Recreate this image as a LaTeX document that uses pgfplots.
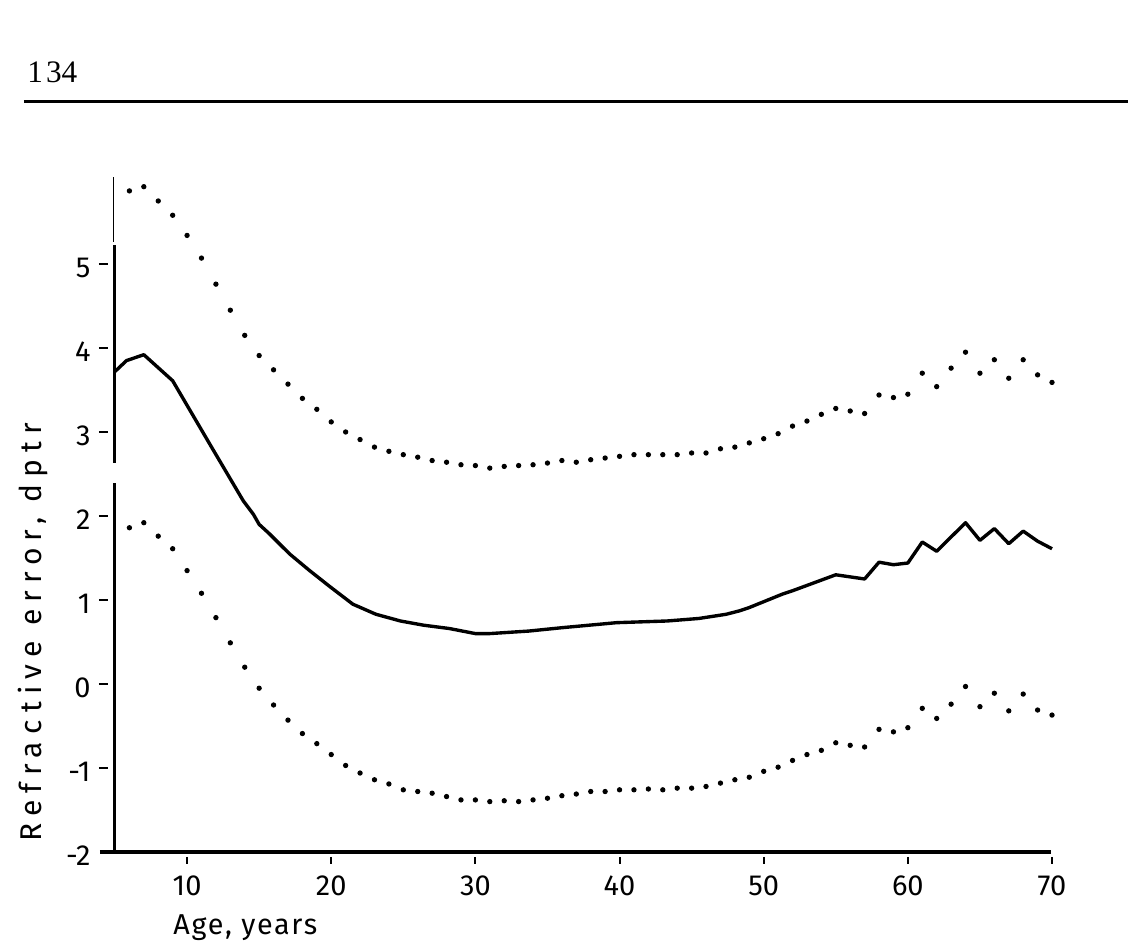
\documentclass[border=0pt]{standalone}
\usepackage{pgfplots}
\pgfplotsset{compat=1.18}
\usepackage{fontspec}
\setmainfont{Fira Sans}
\newfontfamily\seriffont{Liberation Serif}
\newfontfamily\spacedfont[LetterSpace=24]{Fira Sans}
\newfontfamily\xlabfont[LetterSpace=6]{Fira Sans}
\begin{document}
\begin{tikzpicture}
\begin{axis}[
  scale only axis, width=374.8pt, height=268.8pt,
  xmin=5, xmax=70, ymin=-2, ymax=6,
  clip=false,
  axis line style={draw=none},
  major tick length=0pt, tick style={draw=none},
  xtick={10,20,30,40,50,60,70},
  ytick={-2,-1,0,1,2,3,4,5},
  yticklabels={-2,-1,0,1,2,3,4,5},
  xtick pos=bottom, ytick pos=left,
  xticklabel style={anchor=north, inner sep=0pt, yshift=-9.2pt, font=\fontsize{11.6}{13}\selectfont},
  yticklabel style={anchor=east, inner sep=0pt, xshift=-9.6pt, yshift=-1.6pt, font=\fontsize{11.6}{13}\selectfont},
  /pgf/number format/assume math mode=true,
]
\addplot[only marks, mark=*, mark size=0.85pt, black] coordinates {
(6,5.87)(7,5.92)(8,5.75)(9,5.58)(10,5.34)(11,5.07)(12,4.76)(13,4.45)(14,4.15)(15,3.91)
(16,3.74)(17,3.57)(18,3.40)(19,3.27)(20,3.12)(21,3.00)(22,2.91)(23,2.82)(24,2.77)(25,2.73)
(26,2.70)(27,2.66)(28,2.64)(29,2.61)(30,2.60)(31,2.57)(32,2.59)(33,2.60)(34,2.61)(35,2.63)
(36,2.66)(37,2.64)(38,2.67)(39,2.69)(40,2.71)(41,2.73)(42,2.73)(43,2.73)(44,2.73)(45,2.75)
(46,2.75)(47,2.80)(48,2.82)(49,2.87)(50,2.92)(51,2.98)(52,3.07)(53,3.13)(54,3.21)(55,3.28)
(56,3.25)(57,3.22)(58,3.44)(59,3.41)(60,3.45)(61,3.70)(62,3.54)(63,3.76)(64,3.95)(65,3.70)
(66,3.86)(67,3.64)(68,3.86)(69,3.68)(70,3.59)
};
\addplot[only marks, mark=*, mark size=0.85pt, black] coordinates {
(6,1.86)(7,1.92)(8,1.76)(9,1.61)(10,1.35)(11,1.08)(12,0.79)(13,0.49)(14,0.20)(15,-0.05)
(16,-0.25)(17,-0.43)(18,-0.59)(19,-0.71)(20,-0.84)(21,-0.97)(22,-1.06)(23,-1.14)(24,-1.19)(25,-1.26)
(26,-1.28)(27,-1.30)(28,-1.34)(29,-1.38)(30,-1.38)(31,-1.40)(32,-1.39)(33,-1.40)(34,-1.38)(35,-1.36)
(36,-1.33)(37,-1.31)(38,-1.28)(39,-1.28)(40,-1.26)(41,-1.26)(42,-1.25)(43,-1.26)(44,-1.24)(45,-1.24)
(46,-1.22)(47,-1.18)(48,-1.14)(49,-1.11)(50,-1.04)(51,-0.99)(52,-0.91)(53,-0.84)(54,-0.79)(55,-0.70)
(56,-0.73)(57,-0.75)(58,-0.54)(59,-0.57)(60,-0.52)(61,-0.29)(62,-0.41)(63,-0.24)(64,-0.03)(65,-0.27)
(66,-0.11)(67,-0.32)(68,-0.12)(69,-0.31)(70,-0.37)
};
\addplot[black, line width=1.35pt, line join=round, mark=none] coordinates {
(5,3.72)(5.8,3.85)(7,3.92)(9,3.61)(11.8,2.79)(13.9,2.18)(14.6,2.02)(15,1.90)(15.7,1.79)
(17.1,1.55)(18.5,1.35)(19.9,1.16)(21.5,0.95)(23.1,0.83)(24.8,0.75)(26.4,0.70)(28.2,0.66)
(30,0.60)(31,0.60)(33.7,0.63)(36,0.67)(39.8,0.73)(43.3,0.75)(45.5,0.78)(47.4,0.83)(48.3,0.87)
(49,0.91)(51.3,1.07)(52,1.11)(55,1.30)(57,1.25)(58,1.45)(59,1.42)(60,1.44)(61,1.69)(62,1.58)
(64,1.92)(65,1.71)(66,1.85)(67,1.67)(68,1.82)(69,1.70)(70,1.61)
};
\coordinate (O) at (axis cs:5,-2);
\end{axis}
\pgfresetboundingbox
\begin{scope}[shift={(O)}, x=0.4pt, y=0.4pt, shift={(-115,-100)}]
\path[use as bounding box] (0,0) rectangle (1128,952);
% page header
\node[anchor=base west, inner sep=0pt, font=\seriffont\fontsize{12.5}{14}\selectfont] at (27,869) {1\kern1.2pt34};
\draw[line width=1.2pt] (24,850.5) -- (1128,850.5);
% axis lines (with the gaps of the original)
\draw[line width=1.3pt] (100,100) -- (1051,100);
\draw[line width=0.9pt] (114.5,100) -- (114.5,469);
\draw[line width=0.9pt] (114.5,489) -- (114.5,707);
\draw[line width=0.6pt] (113.5,710) -- (113.5,775);
% y ticks
\foreach \py in {768,684,600,516,432,348,264} {
  \draw[line width=1.1pt] (99,952-\py) -- (108,952-\py);
}
% x ticks
\foreach \px in {187.1,331.3,475.4,619.6,763.8,907.9,1052.1} {
  \draw[line width=0.8pt] (\px,95) -- (\px,88);
}
% axis labels
\node[anchor=base west, inner sep=0pt, font=\xlabfont\fontsize{11.5}{13}\selectfont] at (173,17) {Age, years};
\node[rotate=90, inner sep=0pt, font=\spacedfont\fontsize{12}{14}\selectfont] at (33,320) {Refractive error, dptr};
\end{scope}
\end{tikzpicture}
\end{document}
